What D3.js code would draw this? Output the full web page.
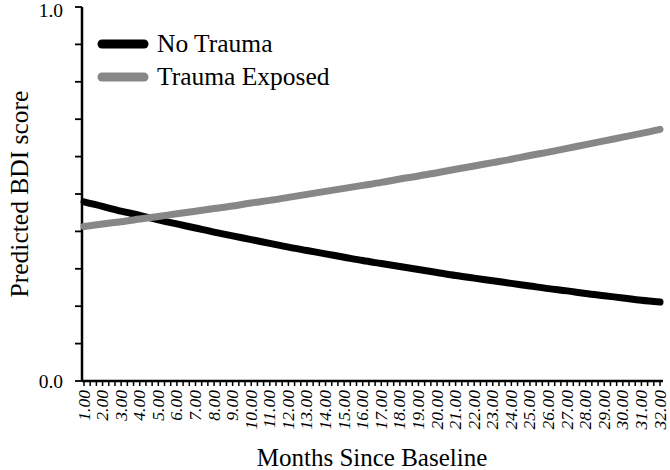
<!DOCTYPE html>
<html><head><meta charset="utf-8">
<script src="https://cdn.jsdelivr.net/npm/d3@7"></script>
<style>
html,body{margin:0;padding:0;background:#fff;}
text{font-family:"Liberation Serif","Times New Roman",serif;fill:#000;}
</style></head>
<body><svg id="c" width="670" height="470"></svg>
<script>
const months = d3.range(1, 33);
const noTrauma = [0.479,0.467,0.454,0.443,0.431,0.420,0.409,0.398,0.388,0.378,0.368,0.358,0.349,0.340,0.331,0.322,0.314,0.306,0.298,0.290,0.282,0.275,0.268,0.261,0.254,0.247,0.241,0.234,0.228,0.222,0.216,0.211];
const traumaExposed = [0.413,0.420,0.426,0.433,0.440,0.447,0.454,0.461,0.468,0.476,0.483,0.491,0.499,0.507,0.515,0.523,0.531,0.540,0.548,0.557,0.566,0.575,0.584,0.593,0.603,0.612,0.622,0.632,0.642,0.652,0.662,0.673];
const seriesNames = ["No Trauma", "Trauma Exposed"];
const seriesColors = ["#000000", "#878787"];
const yTickLabels = [0, 1];

const svg = d3.select("#c");
const x = d3.scaleLinear().domain([1, 32]).range([84, 660]);
const y = d3.scaleLinear().domain([0, 1]).range([381, 7]);
const axisLeft = 82, axisRight = 663;

// y axis
svg.append("line").attr("x1", axisLeft).attr("x2", axisLeft).attr("y1", y(1)).attr("y2", y(0))
  .attr("stroke", "#000").attr("stroke-width", 2.5);
svg.selectAll(".yt").data(d3.range(0, 11).map(i => i / 10)).enter().append("line")
  .attr("x1", axisLeft - 7).attr("x2", axisLeft).attr("y1", d => y(d)).attr("y2", d => y(d))
  .attr("stroke", "#000").attr("stroke-width", 1.8);
svg.selectAll(".yl").data(yTickLabels).enter().append("text")
  .attr("x", 63).attr("y", d => Math.max(y(d), 10)).attr("dy", "0.35em").attr("text-anchor", "end")
  .attr("font-size", 19.5).text(d => d.toFixed(1));

// x axis
svg.append("line").attr("x1", axisLeft).attr("x2", axisRight).attr("y1", y(0)).attr("y2", y(0))
  .attr("stroke", "#000").attr("stroke-width", 2.5);
const minor = d3.range(0, 94).map(i => 1 + i / 3);
svg.selectAll(".xt").data(minor).enter().append("line")
  .attr("x1", d => x(d)).attr("x2", d => x(d)).attr("y1", y(0)).attr("y2", y(0) + 5)
  .attr("stroke", "#000").attr("stroke-width", 1.5);
svg.selectAll(".xl").data(months).enter().append("text")
  .attr("transform", d => `translate(${x(d) + 5.5},390) rotate(-90)`)
  .attr("text-anchor", "end").attr("font-size", 17.5).attr("font-style", "italic")
  .text(d => d.toFixed(2));

// titles
svg.append("text").attr("transform", "translate(28,194) rotate(-90)").attr("text-anchor", "middle")
  .attr("font-size", 25.5).text("Predicted BDI score");
svg.append("text").attr("x", 372).attr("y", 466).attr("text-anchor", "middle")
  .attr("font-size", 25).text("Months Since Baseline");

// lines
const line = d3.line().x((d, i) => x(months[i])).y(d => y(d)).curve(d3.curveMonotoneX);
[noTrauma, traumaExposed].forEach((s, k) => {
  svg.append("path").attr("d", line(s)).attr("fill", "none")
    .attr("stroke", seriesColors[k]).attr("stroke-width", 7).attr("stroke-linecap", "round");
});

// legend
seriesNames.forEach((n, k) => {
  const ly = 44 + k * 33;
  svg.append("line").attr("x1", 102).attr("x2", 144).attr("y1", ly).attr("y2", ly)
    .attr("stroke", seriesColors[k]).attr("stroke-width", 9).attr("stroke-linecap", "round");
  svg.append("text").attr("x", 157).attr("y", ly).attr("dy", "0.33em").attr("font-size", 25.5).text(n);
});
</script></body></html>
